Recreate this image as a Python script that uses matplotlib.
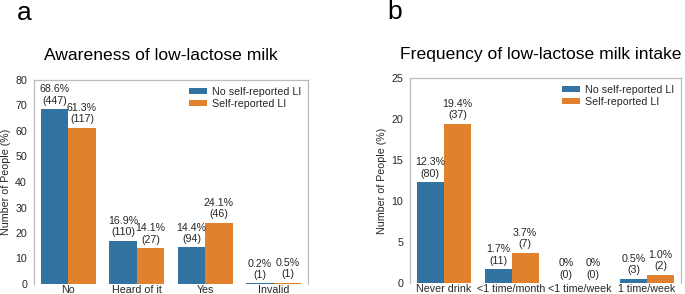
import matplotlib
matplotlib.use("Agg")
import matplotlib.pyplot as plt
import matplotlib.transforms as mtransforms
import numpy as np

plt.rcParams['font.family'] = ['Liberation Sans', 'DejaVu Sans']

# ---- data ----
series_names = ["No self-reported LI", "Self-reported LI"]
colors = ["#3274A1", "#E1812C"]

aware_cats = ["No", "Heard of it", "Yes", "Invalid"]
aware_no_li_pct = [68.6, 16.9, 14.4, 0.2]
aware_no_li_n = [447, 110, 94, 1]
aware_li_pct = [61.3, 14.1, 24.1, 0.5]
aware_li_n = [117, 27, 46, 1]

freq_cats = ["Never drink", "<1 time/month", "<1 time/week", "1 time/week"]
freq_extra_label = "<1 time/day"
freq_no_li_pct = [12.3, 1.7, 0.0, 0.5]
freq_no_li_n = [80, 11, 0, 3]
freq_li_pct = [19.4, 3.7, 0.0, 1.0]
freq_li_n = [37, 7, 0, 2]

TXT = "#262626"
SPINE = "#bbbbbb"
FS = 7.7


def fmt_pct(v):
    if v == 0:
        return "0%"
    return f"{v:.1f}%"


def draw(ax, cats, p1, n1, p2, n2, ymax, yticks):
    x = np.arange(len(cats))
    w = 0.4
    b1 = ax.bar(x - w / 2, p1, width=w, color=colors[0], label=series_names[0], linewidth=0)
    b2 = ax.bar(x + w / 2, p2, width=w, color=colors[1], label=series_names[1], linewidth=0)
    for bars, pcts, ns in ((b1, p1, n1), (b2, p2, n2)):
        for r, p, n in zip(bars, pcts, ns):
            ax.annotate(f"{fmt_pct(p)}\n({n})",
                        (r.get_x() + r.get_width() / 2, r.get_height()),
                        xytext=(0, 2.5), textcoords="offset points",
                        ha="center", va="bottom", multialignment="center",
                        fontsize=FS, color=TXT, linespacing=1.15)
    ax.set_xlim(-0.5, len(cats) - 0.5)
    ax.set_ylim(0, ymax)
    ax.set_yticks(yticks)
    ax.set_xticks(x)
    ax.set_xticklabels(cats)
    ax.tick_params(axis="both", labelsize=FS, colors=TXT, length=0)
    ax.tick_params(axis="x", pad=1.0)
    ax.tick_params(axis="y", pad=5)
    for s in ("left", "top", "right"):
        ax.spines[s].set_color(SPINE)
        ax.spines[s].set_linewidth(0.9)
    ax.spines["bottom"].set_visible(False)
    ax.set_ylabel("Number of People (%)", fontsize=FS, color=TXT, labelpad=3)
    ax.legend(loc="upper right", frameon=False, fontsize=FS,
              handlelength=1.7, handleheight=0.45, labelspacing=0.15,
              handletextpad=0.45, borderaxespad=0.45, borderpad=0.2,
              labelcolor=TXT)


fig = plt.figure(figsize=(6.85, 2.94), dpi=100)
ax1 = fig.add_axes([34 / 685, 10 / 294, 274 / 685, 204 / 294])
ax2 = fig.add_axes([410 / 685, 11 / 294, 271 / 685, 205 / 294])

draw(ax1, aware_cats, aware_no_li_pct, aware_no_li_n, aware_li_pct, aware_li_n,
     80, [0, 10, 20, 30, 40, 50, 60, 70, 80])
draw(ax2, freq_cats, freq_no_li_pct, freq_no_li_n, freq_li_pct, freq_li_n,
     25, [0, 5, 10, 15, 20, 25])

# next category label, mostly outside the visible area
trans = mtransforms.blended_transform_factory(ax2.transData, ax2.transAxes)
ax2.text(len(freq_cats), 0, freq_extra_label,
         transform=trans + mtransforms.ScaledTranslation(0, -1.0 / 72, fig.dpi_scale_trans),
         ha="center", va="top", fontsize=FS, color=TXT, clip_on=False)

fig.text(161 / 685, 1 - 55 / 294, "Awareness of low-lactose milk", ha="center", va="center",
         fontsize=12.6, color="black")
fig.text(541 / 685, 1 - 55 / 294, "Frequency of low-lactose milk intake", ha="center", va="center",
         fontsize=12.6, color="black")
fig.text(24 / 685, 1 - 13 / 294, "a", ha="center", va="center", fontsize=19, color="black")
fig.text(395 / 685, 1 - 12 / 294, "b", ha="center", va="center", fontsize=19, color="black")

fig.savefig("out.png", dpi=100)
